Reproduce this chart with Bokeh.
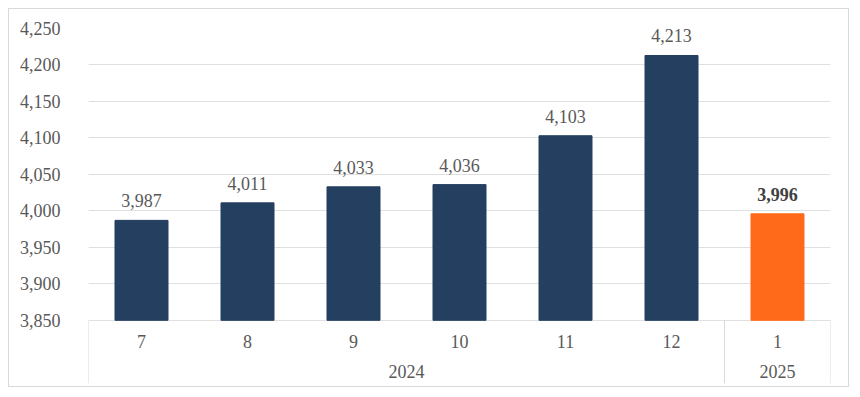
from bokeh.plotting import figure
from bokeh.models import FactorRange, ColumnDataSource, FixedTicker, NumeralTickFormatter, Range1d, LabelSet
from bokeh.embed import file_html
from bokeh.resources import INLINE

years = ["2024", "2024", "2024", "2024", "2024", "2024", "2025"]
months = ["7", "8", "9", "10", "11", "12", "1"]
values = [3987, 4011, 4033, 4036, 4103, 4213, 3996]
colors = ["#243F60"] * 6 + ["#FF6A1A"]
y_ticks = [3850, 3900, 3950, 4000, 4050, 4100, 4150, 4200, 4250]

FONT = "Liberation Serif"
FS = "18px"
GRAY = "#595959"
LINE = "#d9d9d9"

y_min, y_max = y_ticks[0], y_ticks[-1]
frame_h = 354           # whole frame incl. the category box below the value axis
value_h = 291           # part of the frame used by the value scale
y_start = y_min - (frame_h - value_h) * (y_max - y_min) / value_h

factors = list(zip(years, months))
labels = [f"{v:,}" for v in values]
src = ColumnDataSource(dict(x=factors, top=values, color=colors))

p = figure(x_range=FactorRange(*factors, group_padding=0, range_padding=0),
           y_range=Range1d(y_start, y_max),
           width=841, height=379, output_backend="svg", toolbar_location=None,
           min_border_left=79, min_border_right=20, min_border_top=19, min_border_bottom=5)
p.styles = {"border": "1px solid #d9d9d9", "margin": "8px 0 0 8px"}
p.outline_line_color = None
p.xaxis.visible = False

p.vbar(x="x", top="top", bottom=y_min, width=0.5, color="color", source=src)

# value labels
normal = ColumnDataSource(dict(x=factors[:-1], top=values[:-1], label=labels[:-1]))
bold = ColumnDataSource(dict(x=factors[-1:], top=values[-1:], label=labels[-1:]))
p.add_layout(LabelSet(x="x", y="top", text="label", source=normal, text_align="center",
                      text_baseline="alphabetic", y_offset=13, text_font=FONT,
                      text_font_size=FS, text_color=GRAY))
p.add_layout(LabelSet(x="x", y="top", text="label", source=bold, text_align="center",
                      text_baseline="alphabetic", y_offset=13, text_font=FONT,
                      text_font_size=FS, text_font_style="bold", text_color="#404040"))

# category box: month labels, year labels, separators
msrc = ColumnDataSource(dict(x=factors, y=[y_min] * len(factors), label=months))
p.add_layout(LabelSet(x="x", y="y", text="label", source=msrc, text_align="center",
                      text_baseline="alphabetic", y_offset=-28, text_font=FONT,
                      text_font_size=FS, text_color=GRAY))
uniq_years = list(dict.fromkeys(years))
ysrc = ColumnDataSource(dict(x=uniq_years, y=[y_min] * len(uniq_years), label=uniq_years))
p.add_layout(LabelSet(x="x", y="y", text="label", source=ysrc, text_align="center",
                      text_baseline="alphabetic", y_offset=-58, text_font=FONT,
                      text_font_size=FS, text_color=GRAY))

bx = []
for i in range(len(factors) + 1):
    if i == 0:
        bx.append((years[0], months[0], -0.5))
    elif i == len(factors):
        bx.append((years[-1], months[-1], 0.5))
    elif years[i] != years[i - 1]:
        bx.append((years[i], months[i], -0.5))
p.segment(x0=bx, x1=bx, y0=[y_min] * len(bx), y1=[y_start] * len(bx),
          line_color=LINE, line_width=1)

p.yaxis.ticker = FixedTicker(ticks=y_ticks)
p.yaxis.formatter = NumeralTickFormatter(format="0,0")
p.yaxis.axis_line_color = None
p.yaxis.major_tick_line_color = None
p.yaxis.minor_tick_line_color = None
p.yaxis.major_label_standoff = 22
p.yaxis.major_label_text_font = FONT
p.yaxis.major_label_text_font_size = FS
p.yaxis.major_label_text_color = GRAY

p.ygrid.grid_line_color = "#e0e0e0"
p.ygrid.ticker = FixedTicker(ticks=y_ticks)
p.xgrid.grid_line_color = None

open("out.html", "w").write(file_html(p, INLINE))
